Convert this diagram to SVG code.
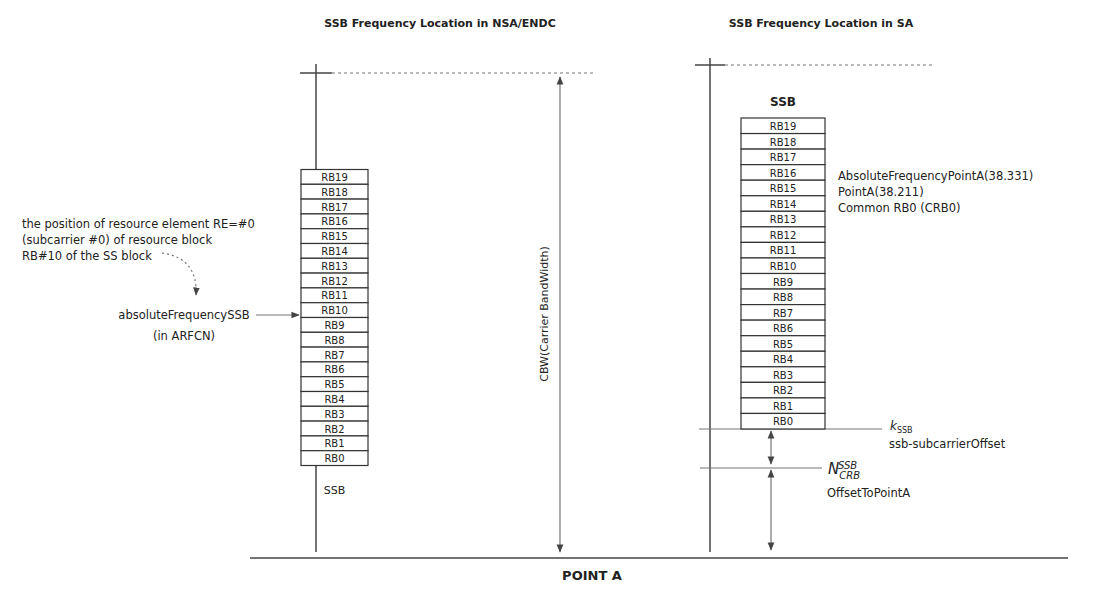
<svg xmlns="http://www.w3.org/2000/svg" width="1107" height="593" viewBox="0 0 1107 593">
<style>
text{font-family:"DejaVu Sans","Liberation Sans",sans-serif;fill:#222}
.rb{fill:#fff;stroke:#333;stroke-width:1.2}
.rt{font-size:10px;text-anchor:middle}
.ln{stroke:#444;stroke-width:1.5;fill:none}
.th{stroke:#777;stroke-width:1.2;fill:none}
.lb{font-size:11.5px}
</style>
<defs>
<marker id="a" viewBox="0 0 10 10" refX="9" refY="5" markerWidth="7" markerHeight="7" orient="auto-start-reverse"><path d="M0,1 L10,5 L0,9 z" fill="#444"/></marker>
</defs>
<rect width="1107" height="593" fill="#fff"/>
<text x="440" y="27" font-size="11" font-weight="bold" text-anchor="middle">SSB Frequency Location in NSA/ENDC</text>
<text x="821" y="27" font-size="11" font-weight="bold" text-anchor="middle">SSB Frequency Location in SA</text>
<g id="connectors">
<line class="ln" x1="250" y1="558" x2="1068" y2="558"/>
<line class="ln" x1="316" y1="64" x2="316" y2="552"/>
<line class="ln" x1="300" y1="73" x2="332" y2="73"/>
<line class="th" x1="332" y1="73" x2="595" y2="73" stroke-dasharray="3,3"/>
<line class="th" x1="560" y1="77" x2="560" y2="552" marker-start="url(#a)" marker-end="url(#a)"/>
<line class="ln" x1="710" y1="58" x2="710" y2="552"/>
<line class="ln" x1="695" y1="65" x2="725" y2="65"/>
<line class="th" x1="725" y1="65" x2="935" y2="65" stroke-dasharray="3,3"/>
<line class="th" x1="699" y1="429" x2="882" y2="429"/>
<line class="th" x1="700" y1="468" x2="822" y2="468"/>
<line class="th" x1="771" y1="431" x2="771" y2="464" marker-start="url(#a)" marker-end="url(#a)"/>
<line class="th" x1="771" y1="470" x2="771" y2="550" marker-start="url(#a)" marker-end="url(#a)"/>
<line class="th" x1="256" y1="315" x2="299" y2="315" marker-end="url(#a)"/>
<path class="th" d="M162,253 Q198,258 196,295" stroke-dasharray="2,3" marker-end="url(#a)"/>
</g>
<g id="ssb-left">
<rect class="rb" x="301" y="169.5" width="67" height="14.8"/><text class="rt" x="334.5" y="181">RB19</text>
<rect class="rb" x="301" y="184.3" width="67" height="14.8"/><text class="rt" x="334.5" y="195.8">RB18</text>
<rect class="rb" x="301" y="199.1" width="67" height="14.8"/><text class="rt" x="334.5" y="210.6">RB17</text>
<rect class="rb" x="301" y="213.9" width="67" height="14.8"/><text class="rt" x="334.5" y="225.4">RB16</text>
<rect class="rb" x="301" y="228.7" width="67" height="14.8"/><text class="rt" x="334.5" y="240.2">RB15</text>
<rect class="rb" x="301" y="243.5" width="67" height="14.8"/><text class="rt" x="334.5" y="255">RB14</text>
<rect class="rb" x="301" y="258.3" width="67" height="14.8"/><text class="rt" x="334.5" y="269.8">RB13</text>
<rect class="rb" x="301" y="273.1" width="67" height="14.8"/><text class="rt" x="334.5" y="284.6">RB12</text>
<rect class="rb" x="301" y="287.9" width="67" height="14.8"/><text class="rt" x="334.5" y="299.4">RB11</text>
<rect class="rb" x="301" y="302.7" width="67" height="14.8"/><text class="rt" x="334.5" y="314.2">RB10</text>
<rect class="rb" x="301" y="317.5" width="67" height="14.8"/><text class="rt" x="334.5" y="329">RB9</text>
<rect class="rb" x="301" y="332.3" width="67" height="14.8"/><text class="rt" x="334.5" y="343.8">RB8</text>
<rect class="rb" x="301" y="347.1" width="67" height="14.8"/><text class="rt" x="334.5" y="358.6">RB7</text>
<rect class="rb" x="301" y="361.9" width="67" height="14.8"/><text class="rt" x="334.5" y="373.4">RB6</text>
<rect class="rb" x="301" y="376.7" width="67" height="14.8"/><text class="rt" x="334.5" y="388.2">RB5</text>
<rect class="rb" x="301" y="391.5" width="67" height="14.8"/><text class="rt" x="334.5" y="403">RB4</text>
<rect class="rb" x="301" y="406.3" width="67" height="14.8"/><text class="rt" x="334.5" y="417.8">RB3</text>
<rect class="rb" x="301" y="421.1" width="67" height="14.8"/><text class="rt" x="334.5" y="432.6">RB2</text>
<rect class="rb" x="301" y="435.9" width="67" height="14.8"/><text class="rt" x="334.5" y="447.4">RB1</text>
<rect class="rb" x="301" y="450.7" width="67" height="14.8"/><text class="rt" x="334.5" y="462.2">RB0</text>
<text x="334.5" y="494" font-size="11" text-anchor="middle">SSB</text>
</g>
<g id="ssb-right">
<text x="783" y="106" font-size="12" font-weight="bold" text-anchor="middle">SSB</text>
<rect class="rb" x="741" y="118" width="84" height="15.55"/><text class="rt" x="783" y="130">RB19</text>
<rect class="rb" x="741" y="133.55" width="84" height="15.55"/><text class="rt" x="783" y="145.5">RB18</text>
<rect class="rb" x="741" y="149.1" width="84" height="15.55"/><text class="rt" x="783" y="161.1">RB17</text>
<rect class="rb" x="741" y="164.65" width="84" height="15.55"/><text class="rt" x="783" y="176.6">RB16</text>
<rect class="rb" x="741" y="180.2" width="84" height="15.55"/><text class="rt" x="783" y="192.2">RB15</text>
<rect class="rb" x="741" y="195.75" width="84" height="15.55"/><text class="rt" x="783" y="207.7">RB14</text>
<rect class="rb" x="741" y="211.3" width="84" height="15.55"/><text class="rt" x="783" y="223.3">RB13</text>
<rect class="rb" x="741" y="226.85" width="84" height="15.55"/><text class="rt" x="783" y="238.8">RB12</text>
<rect class="rb" x="741" y="242.4" width="84" height="15.55"/><text class="rt" x="783" y="254.4">RB11</text>
<rect class="rb" x="741" y="257.95" width="84" height="15.55"/><text class="rt" x="783" y="269.9">RB10</text>
<rect class="rb" x="741" y="273.5" width="84" height="15.55"/><text class="rt" x="783" y="285.5">RB9</text>
<rect class="rb" x="741" y="289.05" width="84" height="15.55"/><text class="rt" x="783" y="301">RB8</text>
<rect class="rb" x="741" y="304.6" width="84" height="15.55"/><text class="rt" x="783" y="316.6">RB7</text>
<rect class="rb" x="741" y="320.15" width="84" height="15.55"/><text class="rt" x="783" y="332.1">RB6</text>
<rect class="rb" x="741" y="335.7" width="84" height="15.55"/><text class="rt" x="783" y="347.7">RB5</text>
<rect class="rb" x="741" y="351.25" width="84" height="15.55"/><text class="rt" x="783" y="363.2">RB4</text>
<rect class="rb" x="741" y="366.8" width="84" height="15.55"/><text class="rt" x="783" y="378.8">RB3</text>
<rect class="rb" x="741" y="382.35" width="84" height="15.55"/><text class="rt" x="783" y="394.3">RB2</text>
<rect class="rb" x="741" y="397.9" width="84" height="15.55"/><text class="rt" x="783" y="409.9">RB1</text>
<rect class="rb" x="741" y="413.45" width="84" height="15.55"/><text class="rt" x="783" y="425.4">RB0</text>
</g>
<g id="labels">
<text class="lb" x="22" y="228">the position of resource element RE=#0</text>
<text class="lb" x="22" y="244">(subcarrier #0) of resource block</text>
<text class="lb" x="22" y="260">RB#10 of the SS block</text>
<text class="lb" x="184" y="319" text-anchor="middle">absoluteFrequencySSB</text>
<text class="lb" x="184" y="340" text-anchor="middle">(in ARFCN)</text>
<text x="0" y="0" font-size="11" text-anchor="middle" transform="translate(548,314) rotate(-90)">CBW(Carrier BandWidth)</text>
<text class="lb" x="838" y="180">AbsoluteFrequencyPointA(38.331)</text>
<text class="lb" x="838" y="196">PointA(38.211)</text>
<text class="lb" x="838" y="212">Common RB0 (CRB0)</text>
<text x="890" y="430" font-size="12" font-style="italic" font-family="Liberation Serif,serif">k<tspan font-size="8" dy="3" font-style="normal">SSB</tspan></text>
<text class="lb" x="889" y="448">ssb-subcarrierOffset</text>
<text x="828" y="474" font-size="15" font-style="italic" font-family="Liberation Serif,serif">N<tspan font-size="10" dy="5">CRB</tspan><tspan font-size="10" dx="-22" dy="-10">SSB</tspan></text>
<text class="lb" x="827" y="497">OffsetToPointA</text>
<text x="592" y="580" font-size="13" font-weight="bold" text-anchor="middle">POINT A</text>
</g>
</svg>
